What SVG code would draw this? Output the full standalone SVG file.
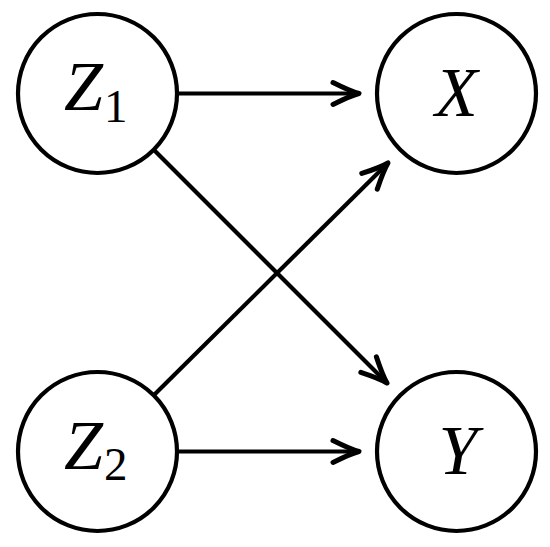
<svg xmlns="http://www.w3.org/2000/svg" width="550" height="547" viewBox="0 0 550 547">
<style>
.node{fill:#fff;stroke:#000;stroke-width:4.2}
.lbl{font-family:"Liberation Serif","DejaVu Serif",serif;font-style:italic;font-size:70px;fill:#000}
.sub{font-family:"Liberation Serif","DejaVu Serif",serif;font-size:47px;fill:#000}
.edge{stroke:#000;stroke-width:4.2;fill:none}
</style>
<defs>
<marker id="arr" markerUnits="userSpaceOnUse" markerWidth="40" markerHeight="36" viewBox="-32 -18 40 36" refX="0" refY="0" orient="auto" overflow="visible">
<path d="M-26,-11 Q-8,-2 0,0 Q-8,2 -26,11" fill="none" stroke="#000" stroke-width="5" stroke-linecap="round" stroke-linejoin="round"/>
</marker>
</defs>
<rect width="550" height="547" fill="#fff"/>
<g id="connectors">
<line class="edge" x1="177" y1="93.5" x2="359" y2="93.5" marker-end="url(#arr)"/>
<line class="edge" x1="154" y1="150" x2="387" y2="383" marker-end="url(#arr)"/>
<line class="edge" x1="177" y1="451.5" x2="359" y2="451.5" marker-end="url(#arr)"/>
<line class="edge" x1="154" y1="395" x2="388" y2="163" marker-end="url(#arr)"/>
</g>
<g id="Z1">
<circle class="node" cx="97.5" cy="93.5" r="79.5"/>
<text class="lbl" x="64" y="110">Z</text><text class="sub" x="104" y="122">1</text>
</g>
<g id="X">
<circle class="node" cx="456.5" cy="93.5" r="79.5"/>
<text class="lbl" x="456.5" y="116" text-anchor="middle">X</text>
</g>
<g id="Z2">
<circle class="node" cx="97.5" cy="451.5" r="79.5"/>
<text class="lbl" x="64" y="469">Z</text><text class="sub" x="104" y="480">2</text>
</g>
<g id="Y">
<circle class="node" cx="456.5" cy="451.5" r="79.5"/>
<text class="lbl" x="458" y="474" text-anchor="middle">Y</text>
</g>
</svg>
